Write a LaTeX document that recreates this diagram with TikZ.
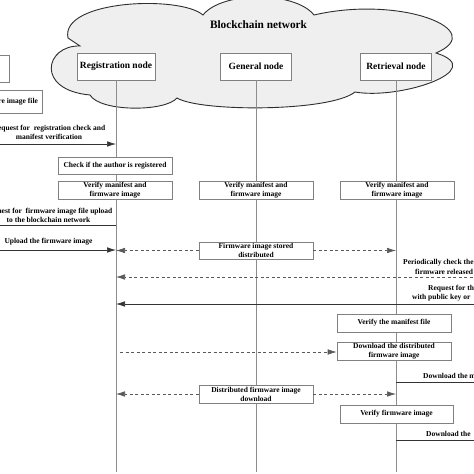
\documentclass[tikz,border=0pt]{standalone}
\usepackage{fontspec}
\setmainfont{Liberation Serif}
\usetikzlibrary{arrows.meta}
\definecolor{boxgray}{HTML}{808080}
\definecolor{lifegray}{HTML}{8C8C8C}
\definecolor{cloudfill}{HTML}{EFEFEF}
\definecolor{cloudline}{HTML}{2E2E2E}
\begin{document}
\begin{tikzpicture}[x=1pt,y=-1pt,
  lbl/.style={font=\fontsize{7.5}{9}\selectfont\bfseries, inner sep=0pt, align=center},
  box/.style={draw=boxgray, fill=white, line width=0.6pt, inner sep=0pt, align=center,
    font=\fontsize{7.5}{9}\selectfont\bfseries, minimum width=114pt, minimum height=18pt},
  head/.style={box, font=\fontsize{9.5}{11}\selectfont\bfseries, minimum height=27pt},
  life/.style={draw=lifegray, line width=0.8pt},
  plain/.style={draw=black!80, line width=0.6pt},
  msg/.style={plain, -{Latex[length=9pt,width=5.5pt]}},
  dmsg/.style={msg, draw=black!65, dash pattern=on 3pt off 2.5pt}
]
\useasboundingbox (0,0) rectangle (474,474);
\clip (0,0) rectangle (474,474);
\fill[white] (0,0) rectangle (474,474);
% cloud
\draw[cloudline, fill=cloudfill, line width=0.9pt]
  (68,38) .. controls (60,0) and (180,-5) .. (203,15)
  .. controls (222,-9) and (295,-9) .. (314,15)
  .. controls (400,-5) and (490,30) .. (436,53)
  .. controls (490,70) and (400,100) .. (355,92)
  .. controls (330,112) and (200,112) .. (177,98)
  .. controls (165,112) and (100,112) .. (90,95)
  .. controls (35,90) and (45,45) .. (80,46) -- cycle;
\node[font=\fontsize{11.3}{13}\selectfont\bfseries, inner sep=0pt] (title) at (258.5,25) {Blockchain network};
% heads
\node[head, minimum width=78pt] (reg) at (116,66.5) {Registration node};
\node[head, minimum width=71pt] (gen) at (256,66.5) {General node};
\node[head, minimum width=71pt] (ret) at (396,66.5) {Retrieval node};
\coordinate (regEnd) at (116,472);
\coordinate (genEnd) at (256,472);
\coordinate (retEnd) at (396,472);
\draw[life] (reg.south) -- (regEnd);
\draw[life] (gen.south) -- (genEnd);
\draw[life] (ret.south) -- (retEnd);
% left cropped actor
\node[box, minimum width=60pt, minimum height=27pt] (author) at (-21,68.5) {};
\node[box, minimum width=73pt, minimum height=23pt] (file) at (5.5,101.5) {Firmware image file};
% message 1
\node[lbl] (t1) at (49,132.5) {Request for\ \ registration check and\\manifest verification};
\coordinate (a1) at (-40,144);
\draw[msg] (a1) -- (a1 -| reg);
% boxes on registration
\node[box, minimum height=17pt] (check) at (115,165.5) {Check if the author is registered};
\node[box] (v1) at (115,190) {Verify manifest and\\firmware image};
\node[box] (v2) at (256,190) {Verify manifest and\\firmware image};
\node[box] (v3) at (397,190) {Verify manifest and\\firmware image};
% message 2
\node[lbl] (t2) at (48.5,215.5) {Request for\ \ firmware image file upload\\to the blockchain network};
\coordinate (a2) at (-40,225);
\draw[plain] (a2) -- (a2 -| reg);
% upload
\node[lbl] (t3) at (48.5,242) {Upload the firmware image};
\coordinate (a3) at (-40,250);
\draw[msg] (a3) -- (a3 -| reg);
% stored
\node[box, minimum height=17pt] (stored) at (256,250.5) {Firmware image stored\\distributed};
\draw[dmsg] (stored.west) -- (stored.west -| reg);
\draw[dmsg] (stored.east) -- (stored.east -| ret);
% periodically
\node[lbl, anchor=west] (t4a) at (403,263) {Periodically check the};
\node[lbl, anchor=west] (t4b) at (415,272) {firmware released};
\coordinate (a4) at (500,277);
\draw[dmsg] (a4) -- (a4 -| reg);
% request
\node[lbl, anchor=west] (t5a) at (428,289) {Request for the};
\node[lbl, anchor=west] (t5b) at (412,298) {with public key or};
\coordinate (a5) at (500,304);
\draw[msg] (a5) -- (a5 -| reg);
% retrieval boxes
\node[box] (vman) at (394,323) {Verify the manifest file};
\node[box] (dl) at (394,351) {Download the distributed\\firmware image};
\coordinate (a6) at (120,352);
\draw[dmsg] (a6) -- (a6 -| dl.west);
% download manifest
\node[lbl, anchor=west] (t6) at (423,376) {Download the manifest};
\coordinate (a7) at (500,382);
\draw[plain] (a7 -| ret) -- (a7);
% distributed download
\node[box] (dd) at (256,394) {Distributed firmware image\\download};
\draw[dmsg] (dd.west) -- (dd.west -| reg);
\draw[dmsg] (dd.east) -- (dd.east -| ret);
% verify firmware
\node[box, minimum width=113pt] (vfw) at (396.5,414) {Verify firmware image};
\node[lbl, anchor=west] (t7) at (426,434) {Download the};
\coordinate (a8) at (500,440);
\draw[plain] (a8 -| ret) -- (a8);
\end{tikzpicture}
\end{document}
